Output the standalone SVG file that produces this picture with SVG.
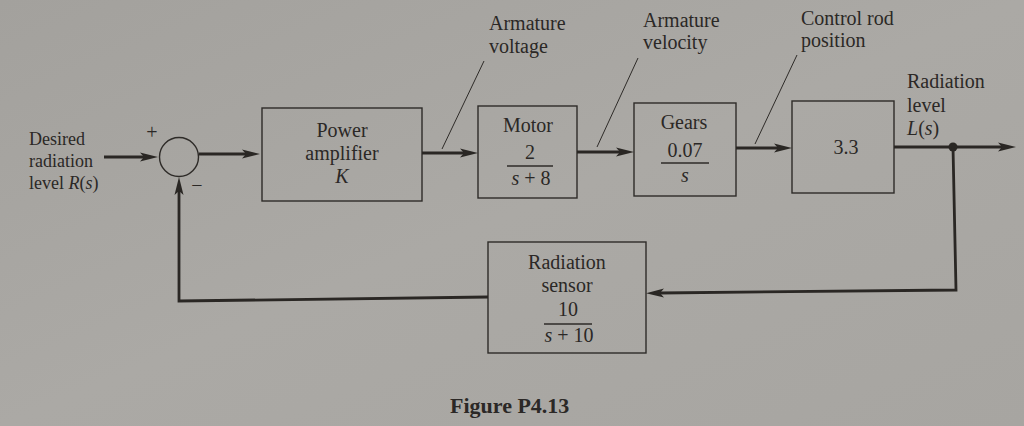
<svg xmlns="http://www.w3.org/2000/svg" width="1024" height="426" viewBox="0 0 1024 426">
  <defs>
    <linearGradient id="bg" x1="0" y1="0" x2="1" y2="1">
      <stop offset="0" stop-color="#a3a19d"/>
      <stop offset="0.5" stop-color="#aba9a5"/>
      <stop offset="1" stop-color="#a7a5a1"/>
    </linearGradient>
    <marker id="arr" markerUnits="userSpaceOnUse" markerWidth="18" markerHeight="9" refX="4" refY="4.5" orient="auto" overflow="visible">
      <path d="M0,0 L18,4.5 L0,9 L4,4.5 Z" fill="#2a2724"/>
    </marker>
    <style>
      text { font-family: "Liberation Serif", "Times New Roman", serif; fill: #2b2826; font-size: 20px; }
      .c { text-anchor: middle; }
      .sm { font-size: 18px; }
      .i { font-style: italic; }
      .box { fill: none; stroke: #2e2b28; stroke-width: 1.4; }
      .sig { fill: none; stroke: #2a2724; stroke-width: 2.8; }
      .lead { fill: none; stroke: #2e2b28; stroke-width: 1; }
      .frac { stroke: #2e2b28; stroke-width: 1.3; }
      .fig { font-weight: bold; font-size: 22px; }
    </style>
  </defs>
  <rect width="1024" height="426" fill="url(#bg)"/>

  <g id="input-label">
    <text class="sm" x="29" y="145">Desired</text>
    <text class="sm" x="29" y="167">radiation</text>
    <text class="sm" x="29" y="189">level <tspan class="i">R</tspan>(<tspan class="i">s</tspan>)</text>
  </g>

  <g id="summing-junction">
    <circle cx="179" cy="157" r="19.5" fill="none" stroke="#2e2b28" stroke-width="1.4"/>
    <text class="c" x="152" y="139" font-size="16">+</text>
    <text class="c" x="197" y="192" font-size="16">−</text>
  </g>

  <g id="power-amplifier">
    <rect class="box" x="262" y="108" width="160" height="93"/>
    <text class="c" x="342" y="137">Power</text>
    <text class="c" x="342" y="160">amplifier</text>
    <text class="c i" x="342" y="183">K</text>
  </g>

  <g id="motor">
    <rect class="box" x="478" y="106" width="99" height="92"/>
    <text class="c" x="528" y="132">Motor</text>
    <text class="c" x="530" y="159">2</text>
    <line class="frac" x1="507" y1="166" x2="553" y2="166"/>
    <text class="c" x="531" y="185"><tspan class="i">s</tspan> + 8</text>
  </g>

  <g id="gears">
    <rect class="box" x="634" y="103" width="102" height="93"/>
    <text class="c" x="684" y="129">Gears</text>
    <text class="c" x="685" y="157">0.07</text>
    <line class="frac" x1="661" y1="163" x2="709" y2="163"/>
    <text class="c i" x="685" y="182">s</text>
  </g>

  <g id="reactor">
    <rect class="box" x="792" y="101" width="102" height="92"/>
    <text class="c" x="846" y="154">3.3</text>
  </g>

  <g id="radiation-sensor">
    <rect class="box" x="488" y="242" width="158" height="111"/>
    <text class="c" x="567" y="269">Radiation</text>
    <text class="c" x="567" y="292">sensor</text>
    <text class="c" x="568" y="316">10</text>
    <line class="frac" x1="544" y1="324" x2="592" y2="324"/>
    <text class="c" x="569" y="342"><tspan class="i">s</tspan> + 10</text>
  </g>

  <g id="signal-labels">
    <text x="489" y="30">Armature</text>
    <text x="489" y="53">voltage</text>
    <text x="643" y="27">Armature</text>
    <text x="643" y="49">velocity</text>
    <text x="801" y="25">Control rod</text>
    <text x="801" y="47">position</text>
    <text x="907" y="88">Radiation</text>
    <text x="907" y="112">level</text>
    <text class="i" x="907" y="135">L<tspan font-style="normal">(</tspan>s<tspan font-style="normal">)</tspan></text>
  </g>

  <g id="connectors">
    <path class="sig" d="M104,157 H144" marker-end="url(#arr)"/>
    <path class="sig" d="M199,154 H246" marker-end="url(#arr)"/>
    <path class="sig" d="M422,153 H464" marker-end="url(#arr)"/>
    <path class="sig" d="M577,152 H620" marker-end="url(#arr)"/>
    <path class="sig" d="M736,148 H778" marker-end="url(#arr)"/>
    <path class="sig" d="M894,147 H1002" marker-end="url(#arr)"/>
    <circle cx="953" cy="147" r="4.5" fill="#2a2724"/>
    <path class="sig" d="M953,147 L956,290 L660,293" marker-end="url(#arr)"/>
    <path class="sig" d="M488,297 L179,301 L179,191" marker-end="url(#arr)"/>
    <line class="lead" x1="484" y1="61" x2="442" y2="149"/>
    <line class="lead" x1="638" y1="58" x2="597" y2="147"/>
    <line class="lead" x1="797" y1="55" x2="755" y2="144"/>
  </g>

  <g id="caption">
    <text class="fig" x="450" y="413">Figure P4.13</text>
  </g>
</svg>
